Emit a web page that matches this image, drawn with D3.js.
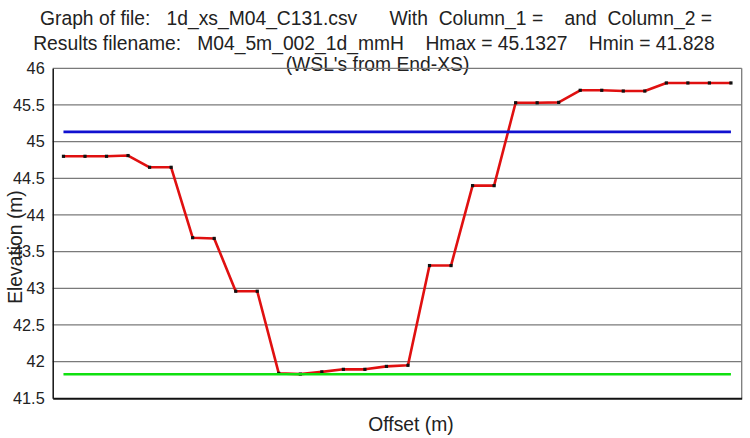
<!DOCTYPE html>
<html><head><meta charset="utf-8">
<script src="https://cdn.jsdelivr.net/npm/d3@7"></script>
<style>
html,body{margin:0;padding:0;background:#fff;}
svg text{font-family:"Liberation Sans",Arial,sans-serif;fill:#222;}
</style></head>
<body>
<svg id="c" width="750" height="438"></svg>
<script>
const offsets = [0,5,10,15,20,25,30,35,40,45,50,55,60,65,70,75,80,85,90,95,100,105,110,115,120,125,130,135,140,145,150,155];
const elevations = [44.80,44.80,44.80,44.81,44.65,44.65,43.69,43.68,42.96,42.96,41.84,41.83,41.86,41.895,41.895,41.935,41.95,43.31,43.31,44.40,44.40,45.53,45.53,45.535,45.70,45.70,45.69,45.69,45.80,45.80,45.80,45.80];
const hmax = 45.1327;
const hmin = 41.828;
const yTicks = [41.5,42,42.5,43,43.5,44,44.5,45,45.5,46];
const titleLines = [
  "Graph of file:   1d_xs_M04_C131.csv      With  Column_1 =    and  Column_2 =",
  "Results filename:   M04_5m_002_1d_mmH    Hmax = 45.1327    Hmin = 41.828",
  "(WSL's from End-XS)"
];

const svg = d3.select("#c");
const L = 52.7, R = 741.7, T = 68.3, B = 398.3;
const x = d3.scaleLinear().domain([-2.5, 157.5]).range([L, R]);
const y = d3.scaleLinear().domain([41.5, 46]).range([B, T]);

// titles
const ty = [24.5, 50, 71];
const tx = [376, 374, 377.5];
titleLines.forEach((t, i) => {
  svg.append("text").attr("x", tx[i]).attr("y", ty[i]).attr("text-anchor", "middle")
    .attr("font-size", 19.3).attr("xml:space", "preserve").style("white-space", "pre").text(t);
});

// gridlines
svg.append("g").selectAll("line").data(yTicks.filter(v => v > 41.5)).join("line")
  .attr("x1", L).attr("x2", R).attr("y1", d => y(d)).attr("y2", d => y(d))
  .attr("stroke", "#7a7a7a").attr("stroke-width", 1.3);
// right border
svg.append("line").attr("x1", R).attr("x2", R).attr("y1", T).attr("y2", B)
  .attr("stroke", "#7a7a7a").attr("stroke-width", 1.3);

// y axis
const yAxis = d3.axisLeft(y).tickValues(yTicks).tickSize(0).tickPadding(8).tickFormat(d3.format(""));
const ga = svg.append("g").attr("transform", `translate(${L},0)`).call(yAxis);
ga.select(".domain").attr("stroke", "#111").attr("stroke-width", 1.5);
ga.selectAll("text").attr("font-size", 16.3).attr("fill", "#222").style("font-family", '"Liberation Sans",Arial,sans-serif');

// x axis (no labels)
const xAxis = d3.axisBottom(x).tickValues([]).tickSize(0);
const gx = svg.append("g").attr("transform", `translate(0,${B})`).call(xAxis);
gx.select(".domain").attr("stroke", "#111").attr("stroke-width", 2);

// profile line
const data = offsets.map((o, i) => ({o, e: elevations[i]}));
svg.append("path").datum(data)
  .attr("d", d3.line().x(d => x(d.o)).y(d => y(d.e)))
  .attr("fill", "none").attr("stroke", "#e01010").attr("stroke-width", 2.6).attr("stroke-linejoin", "round");
svg.append("g").selectAll("rect").data(data).join("rect")
  .attr("x", d => x(d.o) - 1.6).attr("y", d => y(d.e) - 1.6).attr("width", 3.2).attr("height", 3.2)
  .attr("fill", "#111");

// Hmax / Hmin lines
const x0 = offsets[0], x1 = offsets[offsets.length - 1];
svg.append("line").attr("x1", x(x0)).attr("x2", x(x1)).attr("y1", y(hmax)).attr("y2", y(hmax))
  .attr("stroke", "#1010d0").attr("stroke-width", 2.6);
svg.append("line").attr("x1", x(x0)).attr("x2", x(x1)).attr("y1", y(hmin)).attr("y2", y(hmin))
  .attr("stroke", "#10e010").attr("stroke-width", 2.6);

// axis titles
svg.append("text").attr("x", 411).attr("y", 431).attr("text-anchor", "middle").attr("font-size", 19.3).text("Offset (m)");
svg.append("text").attr("transform", "translate(22,247) rotate(-90)").attr("text-anchor", "middle").attr("font-size", 19.3).text("Elevation (m)");
</script>
</body></html>
